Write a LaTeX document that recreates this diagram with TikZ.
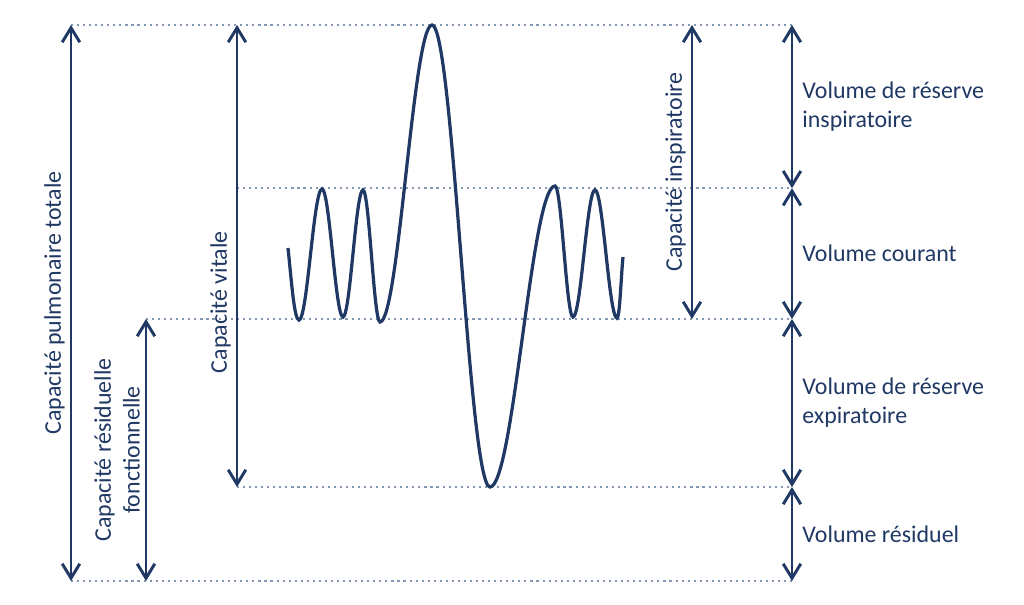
\documentclass[tikz,border=0pt]{standalone}
\usepackage{fontspec}
\setmainfont{Carlito}
\usetikzlibrary{arrows.meta}
\definecolor{navy}{RGB}{31,56,100}
\definecolor{dotgray}{RGB}{132,151,176}
\tikzset{
  span/.style={navy, line width=2.1pt,
    {Straight Barb[length=3.6mm,width=4.4mm]}-{Straight Barb[length=3.6mm,width=4.4mm]}},
  level/.style={dotgray, line width=1.7pt, dash pattern=on 1.5pt off 2.8pt},
  lbl/.style={navy, font=\fontsize{17}{20.5}\selectfont},
  vlbl/.style={lbl, rotate=90, anchor=south, align=center},
  rlbl/.style={lbl, right, align=left, xshift=3pt}
}
\begin{document}
\begin{tikzpicture}
  \useasboundingbox (0,0) rectangle (25.6,15.125);
  % Levels (left and right ends of the dotted lines)
  \coordinate (top-l) at (1.775,14.5);  \coordinate (top-r) at (19.8,14.5);
  \coordinate (vt-l)  at (5.925,10.42); \coordinate (vt-r)  at (19.8,10.42);
  \coordinate (frc-l) at (3.65,7.15);   \coordinate (frc-r) at (19.8,7.15);
  \coordinate (rv-l)  at (5.925,2.95);  \coordinate (rv-r)  at (19.8,2.95);
  \coordinate (bot-l) at (1.775,0.6);   \coordinate (bot-r) at (19.8,0.6);
  \coordinate (ci) at (17.3,0);
  % Dotted level lines
  \draw[level] (top-l) -- (top-r);
  \draw[level] (vt-l) -- (vt-r);
  \draw[level] (frc-l) -- (frc-r);
  \draw[level] (rv-l) -- (rv-r);
  \draw[level] (bot-l) -- (bot-r);
  % Capacities (left)
  \draw[span] (top-l) -- (bot-l) node[midway, vlbl] {Capacité pulmonaire totale};
  \draw[span] (frc-l) -- (frc-l |- bot-l) node[midway, vlbl] {Capacité résiduelle\\fonctionnelle};
  \draw[span] (vt-l |- top-l) -- (rv-l) node[pos=0.6, vlbl] {Capacité vitale};
  \draw[span] (ci |- top-l) -- (ci |- frc-l) node[midway, vlbl] {Capacité inspiratoire};
  % Volumes (right)
  \draw[span] (top-r) -- (vt-r) node[midway, rlbl] {Volume de réserve\\inspiratoire};
  \draw[span] (vt-r) -- (frc-r) node[midway, rlbl] {Volume courant};
  \draw[span] (frc-r) -- (rv-r) node[midway, rlbl] {Volume de réserve\\expiratoire};
  \draw[span] (rv-r) -- (bot-r) node[midway, rlbl] {Volume résiduel};
  % Spirogram trace
  \draw[navy, line width=2.3pt] (7.2,8.925)
    .. controls +(0.09,-0.85) and +(-0.12,0) .. (7.475,7.125)
    .. controls +(0.21,0) and +(-0.21,0) .. (8.05,10.40)
    .. controls +(0.19,0) and +(-0.19,0) .. (8.575,7.20)
    .. controls +(0.18,0) and +(-0.18,0) .. (9.075,10.375)
    .. controls +(0.155,0) and +(-0.155,0) .. (9.50,7.075)
    .. controls +(0.47,0) and +(-0.47,0) .. (10.80,14.50)
    .. controls +(0.53,0) and +(-0.53,0) .. (12.25,2.95)
    .. controls +(0.59,0) and +(-0.59,0) .. (13.875,10.475)
    .. controls +(0.165,0) and +(-0.165,0) .. (14.325,7.20)
    .. controls +(0.20,0) and +(-0.20,0) .. (14.875,10.375)
    .. controls +(0.20,0) and +(-0.20,0) .. (15.425,7.175)
    .. controls +(0.07,0) and +(-0.05,-0.5) .. (15.575,8.70);
\end{tikzpicture}
\end{document}
